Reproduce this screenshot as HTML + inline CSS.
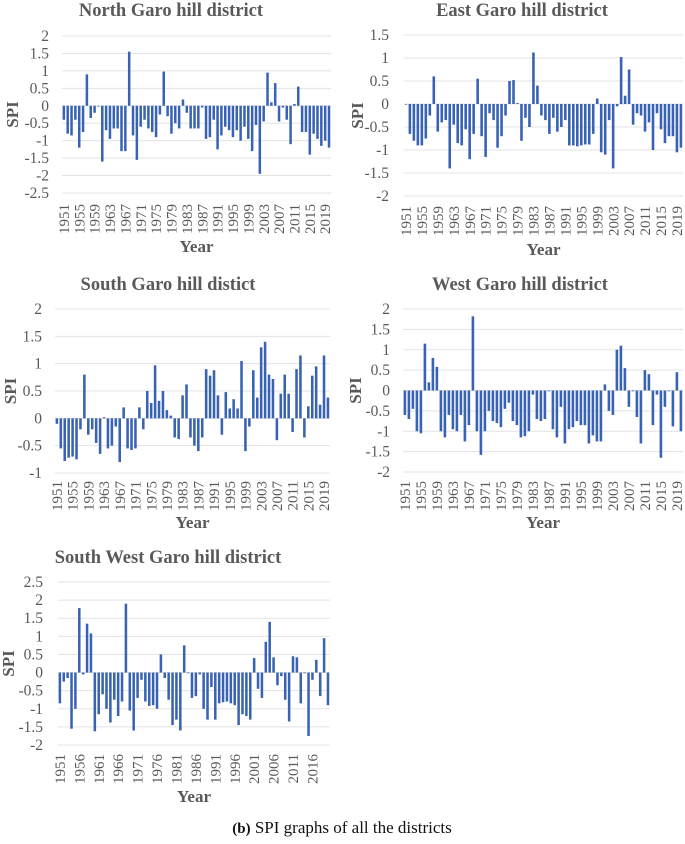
<!DOCTYPE html>
<html><head><meta charset="utf-8"><style>
html,body{margin:0;padding:0;background:#fff;}
svg{display:block;font-family:"Liberation Serif",serif;}
</style></head><body>
<svg id="fig" width="685" height="844" viewBox="0 0 685 844" xmlns="http://www.w3.org/2000/svg">
<text x="342" y="833" text-anchor="middle" font-size="17" fill="#111"><tspan font-weight="bold" font-size="15">(b)</tspan> SPI graphs of all the districts</text>
</svg>
<script>
const years = [];
for (let y = 1951; y <= 2020; y++) years.push(y);
const northValues = [-0.4,-0.8,-0.85,-0.4,-1.2,-0.75,0.9,-0.35,-0.2,-0.02,-1.6,-0.7,-0.95,-0.65,-0.65,-1.3,-1.3,1.55,-0.85,-1.55,-0.6,-0.4,-0.65,-0.75,-0.9,-0.25,0.98,-0.3,-0.8,-0.5,-0.65,0.18,-0.2,-0.65,-0.65,-0.65,-0.05,-0.95,-0.9,-0.4,-1.25,-0.85,-0.6,-0.7,-0.9,-0.7,-1.0,-0.6,-0.95,-1.3,-0.55,-1.95,-0.45,0.95,0.1,0.65,-0.45,-0.05,-0.4,-1.1,0.05,0.55,-0.75,-0.75,-1.4,-0.8,-0.95,-1.15,-1.0,-1.2];
const eastValues = [0,-0.65,-0.8,-0.9,-0.9,-0.75,-0.25,0.6,-0.6,-0.4,-0.35,-1.4,-0.45,-0.85,-0.9,-0.55,-1.2,-0.65,0.55,-0.7,-1.15,-0.2,-0.35,-0.95,-0.7,-0.25,0.5,0.52,0.02,-0.8,-0.3,-0.5,1.12,0.4,-0.25,-0.35,-0.65,-0.3,-0.6,-0.5,-0.35,-0.9,-0.9,-0.92,-0.9,-0.88,-0.88,-0.65,0.12,-1.05,-1.1,-0.35,-1.4,-0.05,1.02,0.18,0.75,-0.45,-0.2,-0.25,-0.6,-0.4,-1.0,-0.2,-0.55,-0.85,-0.7,-0.7,-1.05,-0.95];
const southValues = [-0.1,-0.55,-0.78,-0.72,-0.7,-0.75,-0.2,0.8,-0.3,-0.2,-0.45,-0.65,0.02,-0.55,-0.5,-0.15,-0.8,0.2,-0.55,-0.58,-0.55,0.2,-0.2,0.5,0.28,0.97,0.32,0.5,0.15,0.05,-0.35,-0.38,0.42,0.62,-0.35,-0.5,-0.6,-0.35,0.9,0.78,0.88,0.42,-0.3,0.48,0.18,0.35,0.18,1.05,-0.6,-0.15,0.88,0.38,1.3,1.4,0.8,0.72,-0.4,0.45,0.8,0.45,-0.25,0.9,1.15,-0.35,0.22,0.78,0.95,0.25,1.15,0.38];
const westValues = [-0.6,-0.7,-0.45,-1.0,-1.05,1.15,0.2,0.8,0.58,-1.0,-1.15,-0.6,-0.95,-1.0,-0.6,-1.25,-0.85,1.82,-1.0,-1.58,-1.0,-0.5,-0.75,-0.8,-0.9,-0.45,-0.3,-0.75,-0.85,-1.15,-1.12,-1.0,-0.1,-0.7,-0.75,-0.7,-0.02,-0.95,-1.15,-0.4,-1.3,-0.95,-0.9,-0.75,-0.85,-0.85,-1.3,-1.1,-1.25,-1.25,0.15,-0.5,-0.6,1.0,1.1,0.55,-0.4,-0.02,-0.65,-1.3,0.5,0.4,-0.85,-0.1,-1.65,-0.4,-0.02,-0.88,0.45,-1.0];
const southWestValues = [-0.85,-0.25,-0.15,-1.55,-1.0,1.78,-0.05,1.35,1.08,-1.62,-1.15,-0.6,-1.0,-1.38,-0.75,-1.2,-0.8,1.9,-1.05,-1.6,-0.7,-0.2,-0.8,-0.92,-0.9,-1.0,0.5,-0.15,-0.75,-1.45,-1.3,-1.6,0.75,-0.02,-0.7,-0.65,-0.05,-1.0,-1.3,-0.4,-1.3,-0.85,-0.82,-0.8,-0.85,-0.9,-1.45,-1.15,-1.2,-1.3,0.4,-0.45,-0.7,0.85,1.4,0.42,-0.35,-0.1,-0.75,-1.35,0.45,0.42,-0.85,-0.02,-1.75,-0.2,0.35,-0.65,0.95,-0.9];
const northTicks = [2,1.5,1,0.5,0,-0.5,-1,-1.5,-2,-2.5];
const eastTicks = [1.5,1,0.5,0,-0.5,-1,-1.5,-2];
const southTicks = [2,1.5,1,0.5,0,-0.5,-1];
const westTicks = [2,1.5,1,0.5,0,-0.5,-1,-1.5,-2];
const southWestTicks = [2.5,2,1.5,1,0.5,0,-0.5,-1,-1.5,-2];

const NS = "http://www.w3.org/2000/svg";
const svg = document.getElementById('fig');
function mk(tag, attrs, parent) {
  const e = document.createElementNS(NS, tag);
  for (const k in attrs) e.setAttribute(k, attrs[k]);
  (parent || svg).appendChild(e);
  return e;
}
function chart(c, values, ticks) {
  const g = mk('g', {});
  
  
  const vmax = ticks[0], vmin = ticks[ticks.length - 1];
  const yScale = v => c.top + (vmax - v) / (vmax - vmin) * (c.bottom - c.top);
  const step = (c.right - c.left) / years.length;
  const xScale = i => c.left + i * step;
  ticks.forEach(t => {
    const y = yScale(t);
    const gl = mk('line', {x1: c.left, x2: c.right, y1: y, y2: y, stroke: '#e3e3e3', 'stroke-width': 1}, g);
    
    
    const tl = mk('text', {x: c.tickX, y: y + 5, 'text-anchor': 'end', 'font-size': 15.5, fill: '#595959'}, g);
    
    
    tl.textContent = t;
  });
  const y0 = yScale(0);
  values.forEach((v, i) => {
    const y = yScale(v);
    const b = mk('rect', {x: xScale(i) + 0.6, y: Math.min(y, y0), width: step * 0.65, height: Math.max(Math.abs(y - y0), 0.6), fill: '#3862b2'}, g);
    
    
  });
  years.forEach((yr, i) => {
    if ((yr - 1951) % c.every !== 0) return;
    const x = xScale(i) + step * 0.5 + 5;
    const t = mk('text', {x: x, y: c.labelTop, 'text-anchor': 'end', 'font-size': 15, fill: '#595959', transform: 'rotate(-90 ' + x + ' ' + c.labelTop + ')'}, g);
    
    
    t.textContent = yr;
  });
  const ti = mk('text', {x: c.titleX, y: c.titleY, 'text-anchor': 'middle', 'font-size': 18.5, 'font-weight': 'bold', fill: '#595959'}, g);
  
  
  ti.textContent = c.title;
  const xt = mk('text', {x: (c.left + c.right) / 2, y: c.yearY, 'text-anchor': 'middle', 'font-size': 17, 'font-weight': 'bold', fill: '#595959'}, g);
  
  
  xt.textContent = 'Year';
  const cy = (c.top + c.bottom) / 2;
  const yt = mk('text', {x: c.spiX, y: cy, 'text-anchor': 'middle', 'font-size': 17, 'font-weight': 'bold', fill: '#595959', transform: 'rotate(-90 ' + c.spiX + ' ' + cy + ')'}, g);
  
  
  yt.textContent = 'SPI';
}
chart({name:'north-garo-chart', title:'North Garo hill district', left:62, right:331, top:36, bottom:193, tickX:49, labelTop:204, yearY:252, titleX:171, titleY:16, spiX:18, every:4}, northValues, northTicks);
chart({name:'east-garo-chart', title:'East Garo hill district', left:404, right:683, top:35, bottom:196, tickX:389, labelTop:206, yearY:255, titleX:522, titleY:16, spiX:363, every:4}, eastValues, eastTicks);
chart({name:'south-garo-chart', title:'South Garo hill distict', left:55, right:330, top:309, bottom:473, tickX:42, labelTop:481, yearY:528, titleX:168, titleY:290, spiX:16, every:4}, southValues, southTicks);
chart({name:'west-garo-chart', title:'West Garo hill district', left:403, right:683, top:309, bottom:472, tickX:390, labelTop:481, yearY:528, titleX:520, titleY:290, spiX:361, every:4}, westValues, westTicks);
chart({name:'south-west-garo-chart', title:'South West Garo hill district', left:58, right:330, top:582, bottom:745, tickX:43, labelTop:754, yearY:802, titleX:168, titleY:563, spiX:14, every:5}, southWestValues, southWestTicks);
</script>
</body></html>
